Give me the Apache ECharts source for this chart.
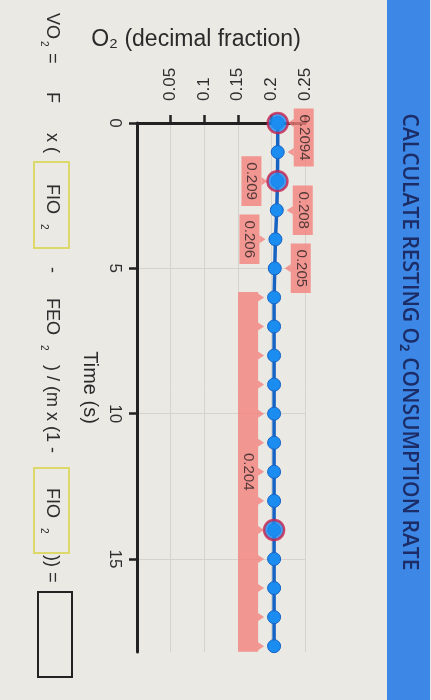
<!DOCTYPE html>
<html>
<head>
<meta charset="utf-8">
<script src="https://cdn.jsdelivr.net/npm/echarts@6/dist/echarts.min.js"></script>
<style>
  html, body { margin: 0; padding: 0; background: #ebe9e4; }
  #chart { width: 431px; height: 700px; }
</style>
</head>
<body>
<div id="chart"></div>
<script>
// ---- data ----
const timeValues = [0, 1, 2, 3, 4, 5, 6, 7, 8, 9, 10, 11, 12, 13, 14, 15, 16, 17, 18];
const o2Values = [0.2094, 0.2094, 0.209, 0.208, 0.206, 0.205, 0.204, 0.204, 0.204, 0.204,
                  0.204, 0.204, 0.204, 0.204, 0.204, 0.204, 0.204, 0.204, 0.204];
const highlightedTimes = [0, 2, 14];
const timeTicks = [0, 5, 10, 15];
const timeMax = 18.2;
const o2Min = 0, o2Max = 0.25, o2Interval = 0.05;
const titleText = 'CALCULATE RESTING O\u2082 CONSUMPTION RATE';
const o2AxisName = 'O\u2082 (decimal fraction)';
const timeAxisName = 'Time (s)';

// ---- layout / style ----
const GRID = { left: 137, right: 126, top: 123, bottom: 48 };
const PINK = '#f4817d';
const BLUE = '#1b8cf0';
const DARKBLUE = '#1663c4';
const RING = '#c8234f';
const AXIS = '#222';
const FONT = '"Liberation Sans", Arial, sans-serif';
const pxPerSec = (700 - GRID.top - GRID.bottom) / timeMax;
const LABEL_DIST = 26;

// group runs of equal values (labels are merged per run)
const groups = [];
let s = 0;
for (let i = 1; i <= o2Values.length; i++) {
  if (i === o2Values.length || o2Values[i] !== o2Values[s]) {
    groups.push({ start: s, end: i - 1, value: o2Values[s] });
    s = i;
  }
}
function groupIndexOf(i) { return groups.findIndex(g => i >= g.start && i <= g.end); }

const lineData = timeValues.map((t, i) => [o2Values[i], t]);

const pointerData = timeValues.map((t, i) => {
  const left = groupIndexOf(i) % 2 === 1;
  return {
    value: [o2Values[i], t],
    symbolRotate: left ? -90 : 90,
    symbolOffset: [left ? -13 : 13, 0]
  };
});

const ringData = highlightedTimes.map(t => [o2Values[timeValues.indexOf(t)], t]);

const labelData = groups.map((g, k) => {
  const left = k % 2 === 1;
  const tMid = (timeValues[g.start] + timeValues[g.end]) / 2;
  const spanPx = (timeValues[g.end] - timeValues[g.start]) * pxPerSec + 11 - 12;
  const lbl = { offset: [0, left ? LABEL_DIST : -LABEL_DIST] };
  if (spanPx > 50) lbl.width = spanPx;
  return { value: [g.value, tMid], label: lbl };
});

// ---- formula text helpers ----
function vtext(text, x, y, size, extra) {
  return Object.assign({
    type: 'text', x: x, y: y, rotation: -Math.PI / 2,
    style: {
      text: text, fill: '#2e2e2e', font: size + 'px ' + FONT,
      align: 'left', verticalAlign: 'middle', textAlign: 'left', textVerticalAlign: 'middle'
    }
  }, extra || {});
}
function box(x, y, w, h, color, lw) {
  return { type: 'rect', shape: { x: x, y: y, width: w, height: h },
           style: { fill: 'none', stroke: color, lineWidth: lw } };
}
const MX = 52, SX = 44, FS = 18, SS = 10;
const YELLOW = '#dcd96a';

const graphics = [
  { type: 'rect', shape: { x: 387, y: 0, width: 43, height: 700 }, style: { fill: '#3d88e6' }, z: -1 },
  {
    type: 'text', x: 409, y: 342, rotation: -Math.PI / 2,
    style: { text: titleText, fill: '#1b2c66', font: '600 21px "Open Sans", sans-serif',
             align: 'center', verticalAlign: 'middle', textAlign: 'center', textVerticalAlign: 'middle' }
  },
  vtext('VO', MX, 13, FS), vtext('2', SX, 41, SS),
  vtext('=', MX, 53, FS),
  vtext('F', MX, 92, FS),
  vtext('x (', MX, 133, FS),
  box(34, 162, 35, 86, YELLOW, 2),
  vtext('FIO', MX, 184, FS), vtext('2', SX, 224, SS),
  vtext('-', MX, 267, FS),
  vtext('FEO', MX, 298, FS), vtext('2', SX, 345, SS),
  vtext(') / (m x (1 -', MX, 365, FS),
  box(34, 468, 35, 85, YELLOW, 2),
  vtext('FIO', MX, 488, FS), vtext('2', SX, 528, SS),
  vtext(')) =', MX, 555, FS),
  box(38, 592, 34, 85, '#222', 2)
];

const chart = echarts.init(document.getElementById('chart'));
chart.setOption({
  animation: false,
  backgroundColor: '#ebe9e4',
  grid: Object.assign({ containLabel: false, outerBoundsMode: 'none' }, GRID),
  xAxis: {
    type: 'value', position: 'top', min: o2Min, max: o2Max, interval: o2Interval,
    name: o2AxisName, nameLocation: 'middle', nameGap: 72,
    nameTextStyle: { fontSize: 23, color: '#2a2a2a', fontFamily: FONT, padding: [0, 50, 0, 0] },
    axisLine: { show: true, onZero: false, lineStyle: { color: AXIS, width: 3 } },
    axisTick: { show: true, length: 8, lineStyle: { color: AXIS, width: 2.5 } },
    axisLabel: { rotate: -90, margin: 22, fontSize: 17, color: '#2e2e2e', fontFamily: FONT, showMinLabel: false },
    splitLine: { show: true, lineStyle: { color: '#d4d3ce', width: 1 } }
  },
  yAxis: {
    type: 'value', inverse: true, min: 0, max: timeMax, interval: 5,
    name: timeAxisName, nameLocation: 'middle', nameGap: 37, nameRotate: -90,
    nameTextStyle: { fontSize: 20, color: '#2a2a2a', fontFamily: FONT },
    axisLine: { show: true, onZero: false, lineStyle: { color: AXIS, width: 3 } },
    axisTick: { show: true, length: 8, customValues: timeTicks, lineStyle: { color: AXIS, width: 2.5 } },
    axisLabel: { rotate: -90, margin: 14, fontSize: 17, color: '#2e2e2e', fontFamily: FONT, customValues: timeTicks },
    splitLine: { show: true, lineStyle: { color: '#d4d3ce', width: 1 } }
  },
  graphic: graphics,
  series: [
    {
      type: 'scatter', data: pointerData, symbol: 'triangle', symbolSize: [8, 6],
      itemStyle: { color: PINK }, z: 2, silent: true
    },
    {
      type: 'line', data: lineData, symbol: 'circle', symbolSize: 13, showSymbol: true,
      itemStyle: { color: BLUE, borderColor: DARKBLUE, borderWidth: 1 },
      lineStyle: { color: DARKBLUE, width: 3.5 }, z: 3
    },
    {
      type: 'scatter', data: ringData, symbol: 'circle', symbolSize: 20,
      itemStyle: { color: BLUE, borderColor: RING, borderWidth: 2.5 }, z: 4
    },
    {
      type: 'scatter', data: labelData, symbol: 'circle', symbolSize: 1,
      itemStyle: { color: 'rgba(0,0,0,0)' }, z: 5,
      label: {
        show: true, position: 'inside', rotate: -90,
        formatter: p => String(p.value[0]),
        fontSize: 15, fontFamily: FONT, color: '#2e2323', lineHeight: 16,
        backgroundColor: PINK, padding: [2, 6], align: 'center'
      }
    }
  ]
});
</script>
</body>
</html>
